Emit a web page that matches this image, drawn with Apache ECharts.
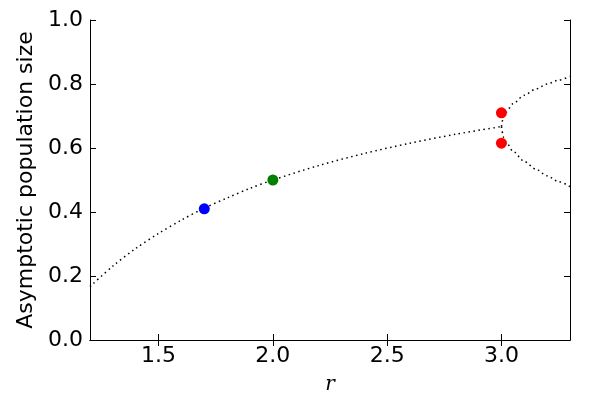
<!DOCTYPE html>
<html>
<head>
<meta charset="utf-8">
<script src="https://cdn.jsdelivr.net/npm/echarts@6/dist/echarts.min.js"></script>
<style>
  html, body { margin: 0; padding: 0; background: #fff; }
  #chart { width: 600px; height: 400px; }
</style>
</head>
<body>
<div id="chart"></div>
<script>
// stable branch
var stableR = [1.2, 1.3, 1.4, 1.5, 1.6, 1.7, 1.8, 1.9, 2.0, 2.2, 2.4, 2.6, 2.8, 3.0];
var stableX = [0.167, 0.231, 0.286, 0.333, 0.375, 0.412, 0.444, 0.474, 0.5, 0.545, 0.583, 0.615, 0.643, 0.667];
// period-2 branches after r = 3
var splitR = [3.0, 3.01, 3.02, 3.05, 3.1, 3.15, 3.2, 3.25, 3.3];
var upperX = [0.667, 0.699, 0.712, 0.738, 0.765, 0.784, 0.800, 0.812, 0.824];
var lowerX = [0.667, 0.633, 0.619, 0.590, 0.558, 0.534, 0.513, 0.495, 0.479];
// highlighted points
var dotR = [1.7, 2.0, 3.0, 3.0];
var dotX = [0.41, 0.5, 0.71, 0.615];
var dotColors = ['#0000ff', '#008000', '#ff0000', '#ff0000'];
var xTicks = [1.5, 2.0, 2.5, 3.0];

function pairs(a, b) {
  return a.map(function (v, i) { return [v, b[i]]; });
}

var myChart = echarts.init(document.getElementById('chart'));

var axisCommon = {
  axisLine: { show: true, lineStyle: { color: '#000', width: 1 } },
  axisTick: { show: true, inside: true, length: 6, lineStyle: { color: '#000', width: 1 } },
  splitLine: { show: false }
};

var dotted = { color: '#000', width: 1.5, type: [1.5, 3.5] };

var option = {
  animation: false,
  grid: { left: 90, right: 30, top: 20, bottom: 60 },
  xAxis: [
    Object.assign({}, axisCommon, {
      type: 'value', min: 1.2, max: 3.3, position: 'bottom',
      name: 'r', nameLocation: 'middle', nameGap: 35,
      nameTextStyle: { fontFamily: 'DejaVu Serif', fontStyle: 'italic', fontSize: 20, color: '#000' },
      axisTick: { show: true, inside: true, length: 6, customValues: xTicks, lineStyle: { color: '#000' } },
      axisLabel: {
        customValues: xTicks, margin: 5, color: '#000', fontSize: 22, fontFamily: 'DejaVu Sans',
        formatter: function (v) { return v.toFixed(1); }
      }
    }),
    Object.assign({}, axisCommon, {
      type: 'value', min: 1.2, max: 3.3, position: 'top',
      axisTick: { show: true, inside: true, length: 6, customValues: xTicks, lineStyle: { color: '#000' } },
      axisLabel: { show: false }
    })
  ],
  yAxis: [
    Object.assign({}, axisCommon, {
      type: 'value', min: 0, max: 1, interval: 0.2, position: 'left',
      name: 'Asymptotic population size', nameLocation: 'middle', nameGap: 42,
      nameTextStyle: { fontFamily: 'DejaVu Sans', fontSize: 22, color: '#000' },
      axisLabel: {
        margin: 7, color: '#000', fontSize: 22, fontFamily: 'DejaVu Sans',
        formatter: function (v) { return v.toFixed(1); }
      }
    }),
    Object.assign({}, axisCommon, {
      type: 'value', min: 0, max: 1, interval: 0.2, position: 'right',
      axisLabel: { show: false }
    })
  ],
  series: [
    {
      type: 'line', data: pairs(stableR, stableX), smooth: 0.3, showSymbol: false,
      lineStyle: dotted, z: 2
    },
    {
      type: 'line', data: pairs(splitR, upperX), smooth: 0.3, smoothMonotone: 'x', showSymbol: false,
      lineStyle: dotted, z: 2
    },
    {
      type: 'line', data: pairs(splitR, lowerX), smooth: 0.3, smoothMonotone: 'x', showSymbol: false,
      lineStyle: dotted, z: 2
    },
    {
      type: 'scatter', symbolSize: 11, z: 3,
      data: dotR.map(function (r, i) {
        return { value: [r, dotX[i]], itemStyle: { color: dotColors[i], opacity: 1 } };
      })
    }
  ]
};

myChart.setOption(option);
</script>
</body>
</html>
